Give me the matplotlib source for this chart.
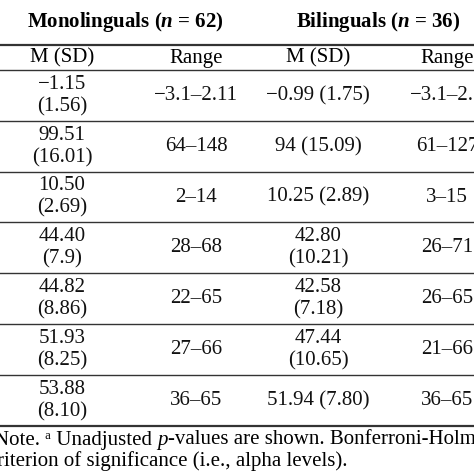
import matplotlib
matplotlib.use("Agg")
import matplotlib.pyplot as plt

fam = "Liberation Serif"
plt.rcParams['mathtext.fontset'] = 'custom'
plt.rcParams['mathtext.rm'] = fam
plt.rcParams['mathtext.it'] = fam + ':italic:bold'
plt.rcParams['mathtext.bf'] = fam + ':bold'

groups = ["Monolinguals", "Bilinguals"]
group_n = [62, 36]
sub_headers = ["M (SD)", "Range", "M (SD)", "Range"]
mono_msd = ["\u22121.15\n(1.56)", "99.51\n(16.01)", "10.50\n(2.69)", "44.40\n(7.9)", "44.82\n(8.86)", "51.93\n(8.25)", "53.88\n(8.10)"]
mono_range = ["\u22123.1\u20132.11", "64\u2013148", "2\u201314", "28\u201368", "22\u201365", "27\u201366", "36\u201365"]
bi_msd = ["\u22120.99 (1.75)", "94 (15.09)", "10.25 (2.89)", "42.80\n(10.21)", "42.58\n(7.18)", "47.44\n(10.65)", "51.94 (7.80)"]
bi_range = ["\u22123.1\u20132.1", "61\u2013127", "3\u201315", "26\u201371", "26\u201365", "21\u201366", "36\u201365"]
note1 = "Note. \u1d43 Unadjusted "
note1b = "p"
note1c = "-values are shown. Bonferroni-Holm correction"
note2 = "riterion of significance (i.e., alpha levels)."

W = H = 474
fig = plt.figure(figsize=(4.74, 4.74), dpi=100)
ax = fig.add_axes([0, 0, 1, 1])
ax.set_xlim(0, W); ax.set_ylim(H, 0); ax.axis("off")
fs = 15
col_x = [62, 196, 318, 447]

ax.text(125, 22, f"{groups[0]} ($n$ = {group_n[0]})", ha="center", va="center", fontsize=fs, fontweight="bold", family=fam)
ax.text(378, 22, f"{groups[1]} ($n$ = {group_n[1]})", ha="center", va="center", fontsize=fs, fontweight="bold", family=fam)

lines = [45, 70, 121, 172, 222, 273, 324, 375, 426]
for i, y in enumerate(lines):
    ax.plot([0, W], [y, y], color="#333333", lw=1.6 if i in (0, 8) else 1.0)

for x, t in zip(col_x, sub_headers):
    ax.text(x, 58, t, ha="center", va="center", fontsize=fs, family=fam)

for r in range(7):
    yc = (lines[r + 1] + lines[r + 2]) / 2
    for x, col in zip(col_x, [mono_msd, mono_range, bi_msd, bi_range]):
        ax.text(x, yc, col[r], ha="center", va="center", fontsize=fs, family=fam, linespacing=1.2, color="#111111")

t1 = ax.text(-6, 440, note1, ha="left", va="center", fontsize=fs, family=fam)
fig.canvas.draw()
bb = t1.get_window_extent()
x2 = bb.x1
t2 = ax.text(x2, 440, note1b, ha="left", va="center", fontsize=fs, family=fam, style="italic")
fig.canvas.draw()
x3 = t2.get_window_extent().x1
ax.text(x3, 440, note1c, ha="left", va="center", fontsize=fs, family=fam)
ax.text(-3, 461, note2, ha="left", va="center", fontsize=fs, family=fam)
fig.savefig("out.png", dpi=100)
